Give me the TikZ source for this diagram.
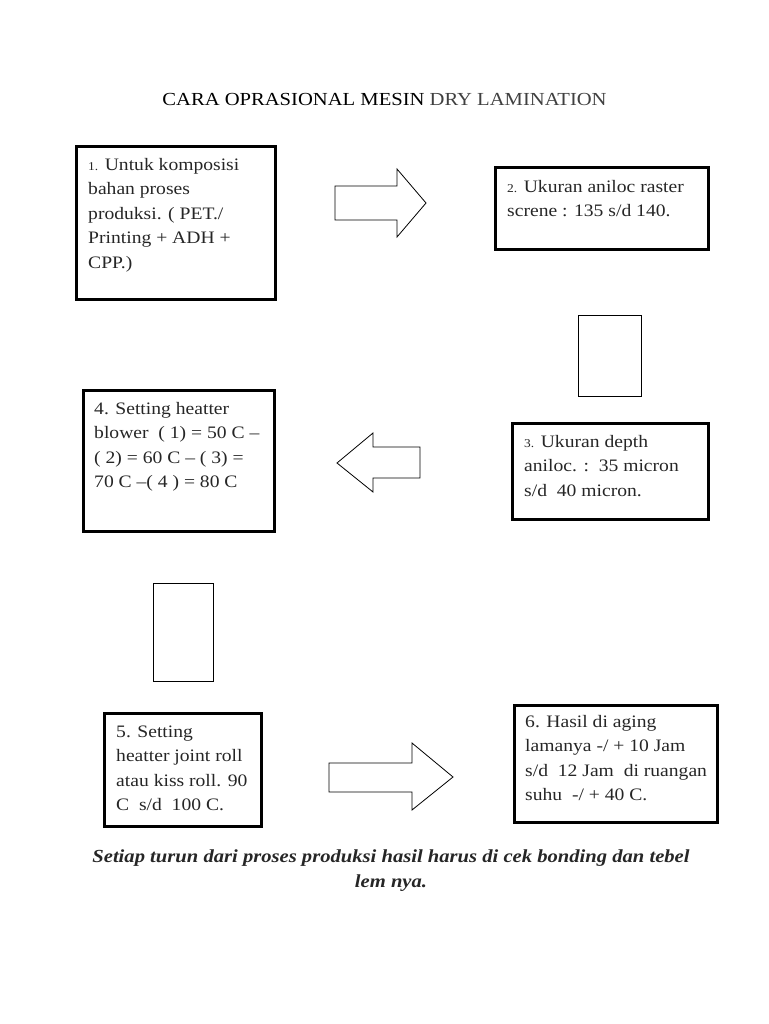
\documentclass[tikz,border=0pt]{standalone}
\usepackage{fontspec}
\setmainfont{Liberation Serif}[FakeStretch=1.12]
\newcommand{\stepno}[1]{{\fontsize{12}{14}\selectfont #1}}
\begin{document}
\begin{tikzpicture}[x=1pt,y=-1pt,
    stepbox/.style={draw, line width=3pt, inner sep=0pt},
    steptext/.style={anchor=north west, inner sep=0pt, align=left, text=black!85,
      font=\fontsize{17.5}{24.5}\selectfont},
    gapbox/.style={draw, line width=0.8pt, inner sep=0pt},
    blockarrow/.style={draw, line width=0.8pt, line join=miter}]
    \useasboundingbox (0,0) rectangle (768,1024);

    \node[anchor=base, font=\fontsize{18.4}{22}\selectfont] (title) at (384.5,106)
      {CARA OPRASIONAL MESIN {\color{black!75}DRY LAMINATION}};

    % top row
    \node[stepbox, minimum width=199, minimum height=152] (s1) at (175.5,223) {};
    \node[steptext] (t1) at (88,152) {\rule{0pt}{18pt}\stepno{1.} Untuk komposisi\\
      bahan proses\\ produksi. ( PET./\\ Printing + ADH +\\ CPP.)};
    \draw[blockarrow] (335,186) -- (397,186) -- (397,169) -- (426,203)
      -- (397,237) -- (397,220) -- (335,220) -- cycle;
    \node[stepbox, minimum width=213, minimum height=81] (s2) at (601.5,208.5) {};
    \node[steptext] (t2) at (507,174) {\rule{0pt}{18pt}\stepno{2.} Ukuran aniloc raster\\
      screne : 135 s/d 140.};

    \node[gapbox, minimum width=63, minimum height=81] (g1) at (609.5,355.5) {};

    % middle row
    \node[stepbox, minimum width=196, minimum height=96] (s3) at (610,471) {};
    \node[steptext] (t3) at (524,429) {\rule{0pt}{18pt}\stepno{3.} Ukuran depth\\
      aniloc. :\ \ 35 micron\\ s/d\ \ 40 micron.};
    \draw[blockarrow] (420,447) -- (373,447) -- (373,433) -- (337,463)
      -- (373,492) -- (373,478) -- (420,478) -- cycle;
    \node[stepbox, minimum width=191, minimum height=141] (s4) at (178.5,460.5) {};
    \node[steptext] (t4) at (94,396) {\rule{0pt}{18pt}4. Setting heatter\\
      blower\ \ ( 1) = 50 C --\\ ( 2) = 60 C -- ( 3) =\\ 70 C --( 4 ) = 80 C};

    \node[gapbox, minimum width=60, minimum height=98] (g2) at (183,632) {};

    % bottom row
    \node[stepbox, minimum width=157, minimum height=113] (s5) at (182.5,769.5) {};
    \node[steptext] (t5) at (116,719) {\rule{0pt}{18pt}5. Setting\\
      heatter joint roll\\ atau kiss roll. 90\\ C\ \ s/d\ \ 100 C.};
    \draw[blockarrow] (329,763) -- (412,763) -- (412,743) -- (453,777)
      -- (412,810) -- (412,792) -- (329,792) -- cycle;
    \node[stepbox, minimum width=203, minimum height=117] (s6) at (615.5,763.5) {};
    \node[steptext] (t6) at (525,709) {\rule{0pt}{18pt}6. Hasil di aging\\
      lamanya -/ + 10 Jam\\ s/d\ \ 12 Jam\ \ di ruangan\\ suhu\ \ -/ + 40 C.};

    \node[anchor=north, inner sep=0pt, align=center, text=black!85,
      font=\fontsize{18.4}{25}\selectfont\bfseries\itshape] (note) at (391,844)
      {\rule{0pt}{18pt}Setiap turun dari proses produksi hasil harus di cek bonding dan tebel\\
      lem nya.};
  \end{tikzpicture}
\end{document}
